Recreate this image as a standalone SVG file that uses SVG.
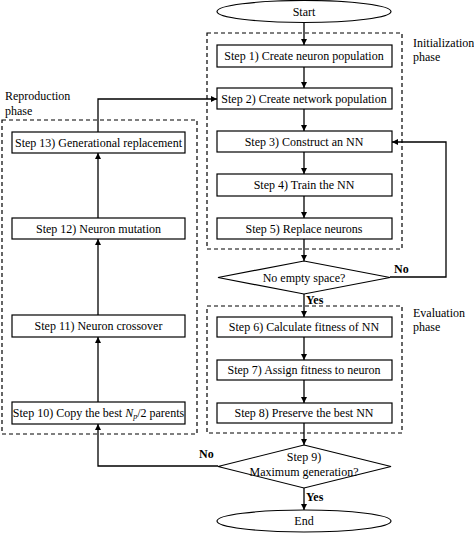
<svg xmlns="http://www.w3.org/2000/svg" width="474" height="551" viewBox="0 0 474 551">
<defs>
<marker id="ah" viewBox="0 0 8 8" refX="8" refY="4" markerWidth="6" markerHeight="6" markerUnits="userSpaceOnUse" orient="auto">
<path d="M0,0 L8,4 L0,8 z" fill="#000"/>
</marker>
<style>
.box{fill:#fff;stroke:#000;stroke-width:1.2}
.dash{fill:none;stroke:#000;stroke-width:1.2;stroke-dasharray:4,3}
.t{font-family:"Liberation Serif","Times New Roman",serif;font-size:12px;fill:#000;text-anchor:middle;dominant-baseline:central}
.l{font-family:"Liberation Serif","Times New Roman",serif;font-size:12px;fill:#000}
.c{fill:none;stroke:#000;stroke-width:1.3}
</style>
</defs>
<rect width="474" height="551" fill="#fff"/>
<g id="phases">
<rect class="dash" x="207" y="33" width="195" height="216"/>
<rect class="dash" x="207" y="306" width="195" height="127"/>
<rect class="dash" x="2" y="120" width="195" height="314"/>
<text class="l" x="413" y="47">Initialization</text>
<text class="l" x="413" y="61">phase</text>
<text class="l" x="413" y="317">Evaluation</text>
<text class="l" x="413" y="331">phase</text>
<text class="l" x="5" y="100">Reproduction</text>
<text class="l" x="5" y="115">phase</text>
</g>
<g id="connectors">
<line class="c" x1="304" y1="22" x2="304" y2="45" marker-end="url(#ah)"/>
<line class="c" x1="304" y1="67" x2="304" y2="88" marker-end="url(#ah)"/>
<line class="c" x1="304" y1="109" x2="304" y2="131" marker-end="url(#ah)"/>
<line class="c" x1="304" y1="152" x2="304" y2="174" marker-end="url(#ah)"/>
<line class="c" x1="304" y1="196" x2="304" y2="218" marker-end="url(#ah)"/>
<line class="c" x1="304" y1="239" x2="304" y2="261" marker-end="url(#ah)"/>
<polyline class="c" points="390,277 446,277 446,142 392,142" marker-end="url(#ah)"/>
<line class="c" x1="304" y1="294" x2="304" y2="317" marker-end="url(#ah)"/>
<line class="c" x1="304" y1="337" x2="304" y2="360" marker-end="url(#ah)"/>
<line class="c" x1="304" y1="380" x2="304" y2="403" marker-end="url(#ah)"/>
<line class="c" x1="304" y1="423" x2="304" y2="445" marker-end="url(#ah)"/>
<line class="c" x1="304" y1="488" x2="304" y2="510" marker-end="url(#ah)"/>
<polyline class="c" points="218,466 98,466 98,424" marker-end="url(#ah)"/>
<line class="c" x1="98" y1="402" x2="98" y2="337" marker-end="url(#ah)"/>
<line class="c" x1="98" y1="315" x2="98" y2="239" marker-end="url(#ah)"/>
<line class="c" x1="98" y1="218" x2="98" y2="153" marker-end="url(#ah)"/>
<polyline class="c" points="98,132 98,99 217,99" marker-end="url(#ah)"/>
<text class="l" x="394" y="273" font-weight="bold">No</text>
<text class="l" x="306" y="304" font-weight="bold">Yes</text>
<text class="l" x="199" y="458" font-weight="bold">No</text>
<text class="l" x="306" y="501" font-weight="bold">Yes</text>
</g>
<g id="start"><ellipse class="box" cx="304" cy="11.5" rx="87" ry="11"/><text class="t" x="304" y="12">Start</text></g>
<g id="step1"><rect class="box" x="217" y="45" width="175" height="22"/><text class="t" x="304" y="56">Step 1) Create neuron population</text></g>
<g id="step2"><rect class="box" x="217" y="88" width="175" height="21"/><text class="t" x="304" y="98.5">Step 2) Create network population</text></g>
<g id="step3"><rect class="box" x="217" y="131" width="175" height="21"/><text class="t" x="304" y="141.5">Step 3) Construct an NN</text></g>
<g id="step4"><rect class="box" x="217" y="174" width="175" height="22"/><text class="t" x="304" y="185">Step 4) Train the NN</text></g>
<g id="step5"><rect class="box" x="217" y="218" width="175" height="21"/><text class="t" x="304" y="228.5">Step 5) Replace neurons</text></g>
<g id="decision1"><polygon class="box" points="304,261 390,277.5 304,294 218,277.5"/><text class="t" x="304" y="277.5">No empty space?</text></g>
<g id="step6"><rect class="box" x="217" y="317" width="175" height="20"/><text class="t" x="304" y="327">Step 6) Calculate fitness of NN</text></g>
<g id="step7"><rect class="box" x="217" y="360" width="175" height="20"/><text class="t" x="304" y="370">Step 7) Assign fitness to neuron</text></g>
<g id="step8"><rect class="box" x="217" y="403" width="175" height="20"/><text class="t" x="304" y="413">Step 8) Preserve the best NN</text></g>
<g id="step9"><polygon class="box" points="304,445 391,466.5 304,488 218,466.5"/><text class="t" x="304" y="457">Step 9)</text><text class="t" x="304" y="472">Maximum generation?</text></g>
<g id="end"><ellipse class="box" cx="304" cy="521" rx="87" ry="11"/><text class="t" x="304" y="521">End</text></g>
<g id="step10"><rect class="box" x="12" y="402" width="173" height="22"/><text class="t" x="98.5" y="413">Step 10) Copy the best <tspan font-style="italic">N</tspan><tspan font-style="italic" font-size="8" dy="3">p</tspan><tspan dy="-3">/2 parents</tspan></text></g>
<g id="step11"><rect class="box" x="12" y="315" width="173" height="22"/><text class="t" x="98.5" y="326">Step 11) Neuron crossover</text></g>
<g id="step12"><rect class="box" x="12" y="218" width="173" height="21"/><text class="t" x="98.5" y="228.5">Step 12) Neuron mutation</text></g>
<g id="step13"><rect class="box" x="12" y="132" width="173" height="21"/><text class="t" x="98.5" y="142.5">Step 13) Generational replacement</text></g>
</svg>
